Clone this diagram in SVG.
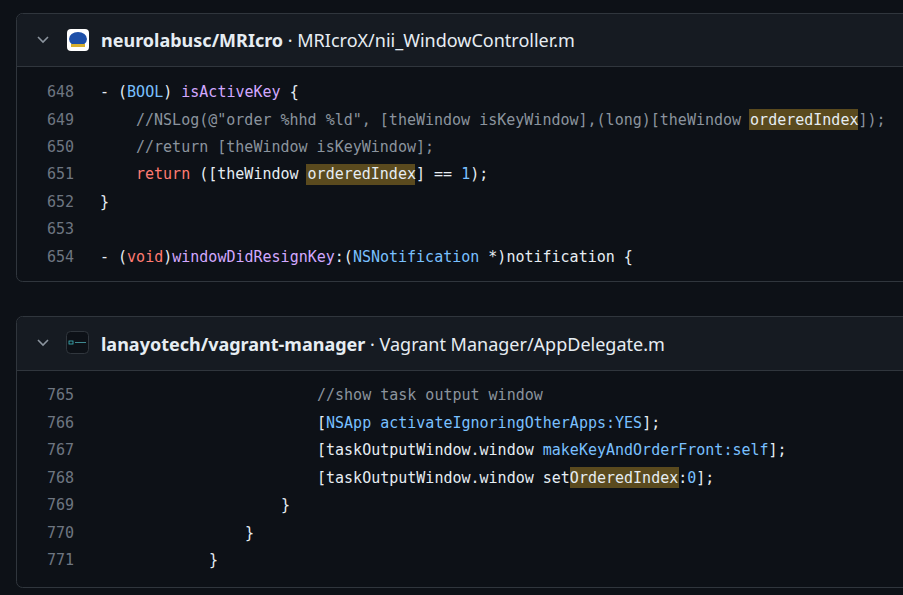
<svg xmlns="http://www.w3.org/2000/svg" width="903" height="595" viewBox="0 0 903 595">
<style>
.card{fill:#0d1117;stroke:#30363d;stroke-width:1}
.hdr{fill:#161b22}
.ln{font-family:"DejaVu Sans Mono",monospace;font-size:15px;fill:#6e7681;text-anchor:end}
.code{font-family:"DejaVu Sans Mono",monospace;font-size:15px;fill:#e6edf3;white-space:pre}
.c{fill:#8b949e}.k{fill:#ff7b72}.b{fill:#79c0ff}.f{fill:#d2a8ff}
.hl{fill:#5a4a1e}
.title{font-family:"Noto Sans","Liberation Sans",sans-serif;font-size:18px;fill:#e6edf3}
.chev{fill:none;stroke:#8b949e;stroke-width:1.6}
</style>
<rect width="903" height="595" fill="#0d1117"/>
<g id="card1">
<rect class="card" x="16.5" y="13.5" width="900" height="268" rx="6"/>
<path class="hdr" d="M17 66 V20 a6 6 0 0 1 6 -6 H903 V66 Z"/>
<line x1="17" y1="66.5" x2="903" y2="66.5" stroke="#30363d"/>
<path class="chev" d="M38 37 l5 5 l5 -5"/>
<rect x="67" y="29" width="22" height="22" rx="4" fill="#fff"/>
<ellipse cx="78" cy="39" rx="9" ry="7" fill="#1d4fa8"/>
<rect x="71" y="44" width="14" height="3" fill="#d8b030"/>
<text class="title" x="101" y="47"><tspan font-weight="bold">neurolabusc/MRIcro</tspan> · MRIcroX/nii_WindowController.m</text>
<rect class="hl" x="749" y="109" width="109" height="21"/>
<rect class="hl" x="306" y="164" width="109" height="21"/>
<g class="ln"><text x="74" y="97">648</text><text x="74" y="125">649</text><text x="74" y="152">650</text><text x="74" y="179">651</text><text x="74" y="207">652</text><text x="74" y="234">653</text><text x="74" y="262">654</text></g>
<g class="code">
<text x="100" y="97">- (<tspan class="b">BOOL</tspan>) <tspan class="f">isActiveKey</tspan> {</text>
<text x="136" y="125" class="c">//NSLog(@"order %hhd %ld", [theWindow isKeyWindow],(long)[theWindow <tspan fill="#e6edf3">orderedIndex</tspan>]);</text>
<text x="136" y="152" class="c">//return [theWindow isKeyWindow];</text>
<text x="136" y="179"><tspan class="k">return</tspan> ([theWindow orderedIndex] == <tspan class="b">1</tspan>);</text>
<text x="100" y="207">}</text>
<text x="100" y="262">- (<tspan class="k">void</tspan>)<tspan class="f">windowDidResignKey</tspan>:(<tspan class="b">NSNotification</tspan> *)notification {</text>
</g>
</g>
<g id="card2">
<rect class="card" x="16.5" y="316.5" width="900" height="271" rx="6"/>
<path class="hdr" d="M17 370 V323 a6 6 0 0 1 6 -6 H903 V370 Z"/>
<line x1="17" y1="370.5" x2="903" y2="370.5" stroke="#30363d"/>
<path class="chev" d="M38 340 l5 5 l5 -5"/>
<rect x="66.5" y="331.5" width="22" height="22" rx="4" fill="#0d1117" stroke="#30363d"/>
<rect x="69" y="341" width="4" height="3" fill="none" stroke="#3fb8c0" stroke-width="0.8"/>
<rect x="75" y="342" width="11" height="1" fill="#3f8890"/>
<text class="title" x="101" y="351"><tspan font-weight="bold">lanayotech/vagrant-manager</tspan> · Vagrant Manager/AppDelegate.m</text>
<rect class="hl" x="570" y="467" width="109" height="21"/>
<g class="ln"><text x="74" y="400">765</text><text x="74" y="428">766</text><text x="74" y="455">767</text><text x="74" y="483">768</text><text x="74" y="510">769</text><text x="74" y="538">770</text><text x="74" y="565">771</text></g>
<g class="code">
<text x="317" y="400" class="c">//show task output window</text>
<text x="317" y="428">[<tspan class="b">NSApp</tspan> <tspan class="b">activateIgnoringOtherApps:YES</tspan>];</text>
<text x="317" y="455">[taskOutputWindow.window <tspan class="b">makeKeyAndOrderFront:self</tspan>];</text>
<text x="317" y="483">[taskOutputWindow.window setOrderedIndex:<tspan class="b">0</tspan>];</text>
<text x="281" y="510">}</text>
<text x="245" y="538">}</text>
<text x="209" y="565">}</text>
</g>
</g>
</svg>
